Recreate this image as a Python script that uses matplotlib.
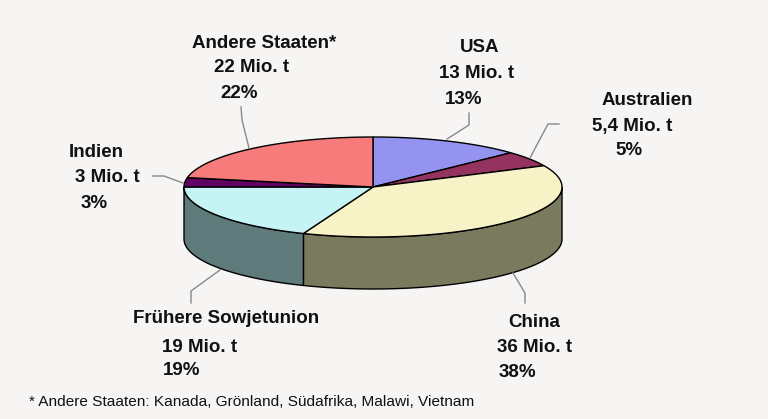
import numpy as np
import matplotlib
matplotlib.use("Agg")
import matplotlib.pyplot as plt
from matplotlib.patches import Polygon

# ---- data ----
countries = ["USA", "Australien", "China", "Frühere Sowjetunion", "Indien", "Andere Staaten*"]
amounts = ["13", "5,4", "36", "19", "3", "22"]
percents = [13, 5, 38, 19, 3, 22]
footnote = "* Andere Staaten: Kanada, Grönland, Südafrika, Malawi, Vietnam"

top_colors = ["#9494F0", "#94335F", "#F7F3C6", "#C6F3F3", "#600060", "#F77B7B"]
side_colors = ["#5A5A90", "#5A1F39", "#7A7A5E", "#5F7A7A", "#3A003A", "#944A4A"]

plt.rcParams['font.family'] = ['Liberation Sans', 'DejaVu Sans']

fig = plt.figure(figsize=(7.68, 4.19), dpi=100)
fig.patch.set_facecolor("#F7F4F4")
ax = fig.add_axes([0, 0, 1, 1])
ax.set_xlim(0, 768)
ax.set_ylim(419, 0)
ax.axis("off")

cx, cy, rx, ry, depth = 373, 187, 189, 50, 52

def pt(theta_deg, dy=0.0):
    t = np.radians(theta_deg)
    return cx + rx * np.cos(t), cy - ry * np.sin(t) + dy

# slice angles: start at 90 deg, clockwise
bounds = [90.0]
for p in percents:
    bounds.append(bounds[-1] - 360.0 * p / 100.0)

# side faces (front half: angles between -180 and 0)
for i in range(len(percents)):
    a1, a2 = bounds[i], bounds[i + 1]
    lo, hi = a2, a1
    for shift in (0, -360, 360):
        l, h = lo + shift, hi + shift
        s, e = max(l, -180), min(h, 0)
        if e > s:
            th = np.linspace(e, s, 80)
            top = [pt(t) for t in th]
            bot = [pt(t, depth) for t in th[::-1]]
            ax.add_patch(Polygon(top + bot, closed=True, facecolor=side_colors[i],
                                 edgecolor="black", linewidth=1.0, zorder=1))

# top faces
for i in range(len(percents)):
    a1, a2 = bounds[i], bounds[i + 1]
    th = np.linspace(a1, a2, 120)
    poly = [(cx, cy)] + [pt(t) for t in th]
    ax.add_patch(Polygon(poly, closed=True, facecolor=top_colors[i],
                         edgecolor="black", linewidth=1.0, zorder=2))

# leader lines
lc = "#888888"
leaders = [
    [(469, 113), (469, 125), (447, 139)],      # USA
    [(559, 124), (548, 124), (530, 158)],      # Australien
    [(525, 303), (525, 293), (513, 273)],      # China
    [(191, 303), (191, 291), (220, 270)],      # Sowjetunion
    [(153, 176), (164, 176), (183, 183)],      # Indien
    [(241, 107), (242, 120), (249, 148)],      # Andere
]
for pts_ in leaders:
    xs, ys = zip(*pts_)
    ax.plot(xs, ys, color=lc, linewidth=1.0, zorder=3)

# labels: (x of each line, y of each line)
label_pos = [
    [(460, 47), (439, 73), (445, 99)],
    [(602, 100), (592, 126), (615, 150)],
    [(508, 322), (497, 347), (499, 372)],
    [(133, 318), (162, 347), (163, 370)],
    [(69, 152), (75, 177), (81, 203)],
    [(192, 43), (214, 68), (220, 93)],
]
for i in range(len(percents)):
    lines = [countries[i], f"{amounts[i]} Mio. t", f"{percents[i]}%"]
    for (x, y), s in zip(label_pos[i], lines):
        ax.text(x, y, s, ha="left", va="center", fontsize=13.5,
                fontweight="bold", color="#111111", zorder=4)

ax.text(29, 402, footnote, ha="left", va="center", fontsize=11.1, color="#111111")

fig.savefig("out.png", dpi=100, facecolor=fig.get_facecolor())
